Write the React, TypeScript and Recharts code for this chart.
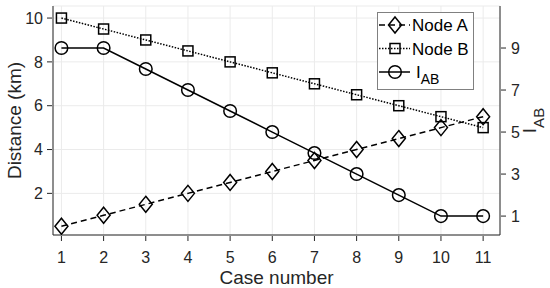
import { ComposedChart, Line, XAxis, YAxis, CartesianGrid, Legend, Label } from 'recharts';

const cases = [1, 2, 3, 4, 5, 6, 7, 8, 9, 10, 11];
const nodeA = [0.5, 1, 1.5, 2, 2.5, 3, 3.5, 4, 4.5, 5, 5.5];
const nodeB = [10, 9.5, 9, 8.5, 8, 7.5, 7, 6.5, 6, 5.5, 5];
const iab = [9, 9, 8, 7, 6, 5, 4, 3, 2, 1, 1];

const caseTicks = [1, 2, 3, 4, 5, 6, 7, 8, 9, 10, 11];
const distanceTicks = [2, 4, 6, 8, 10];
const iabTicks = [1, 3, 5, 7, 9];
const legendOrder = ['a', 'b', 'iab'];

const data = cases.map((c, i) => ({ c, a: nodeA[i], b: nodeB[i], iab: iab[i] }));

const FONT = '"Liberation Sans", Arial, sans-serif';
const INK = '#000000';
const AXIS = '#262626';

// open markers, like matlab's 'd', 's', 'o'
const diamond = (cx: number, cy: number, key?: any) => (
  <path key={key} d={`M${cx},${cy - 8}L${cx + 6.5},${cy}L${cx},${cy + 8}L${cx - 6.5},${cy}Z`} fill="none" stroke={INK} strokeWidth={1.5} />
);
const square = (cx: number, cy: number, key?: any) => (
  <rect key={key} x={cx - 5} y={cy - 5} width={10} height={10} fill="none" stroke={INK} strokeWidth={1.5} />
);
const circle = (cx: number, cy: number, key?: any) => (
  <circle key={key} cx={cx} cy={cy} r={6.3} fill="none" stroke={INK} strokeWidth={1.5} />
);

const seriesStyle: Record<string, { dash?: string; marker: typeof diamond }> = {
  a: { dash: '6 4', marker: diamond },
  b: { dash: '1.5 1.5', marker: square },
  iab: { marker: circle },
};

const BottomTick = ({ x, y, payload }: any) => (
  <g>
    <line x1={x} x2={x} y1={y - 11} y2={y - 16} stroke={AXIS} />
    <text x={x} y={y} dy="0.71em" textAnchor="middle" fill={AXIS} fontSize={16} fontFamily={FONT}>
      {payload.value}
    </text>
  </g>
);

const TopTick = ({ x, y }: any) => <line x1={x} x2={x} y1={y} y2={y + 5} stroke={AXIS} />;

const LeftTick = ({ x, y, payload }: any) => (
  <g>
    <line x1={x + 4} x2={x + 9} y1={y} y2={y} stroke={AXIS} />
    <text x={x} y={y} dy="0.355em" textAnchor="end" fill={AXIS} fontSize={16} fontFamily={FONT}>
      {payload.value}
    </text>
  </g>
);

const RightTick = ({ x, y, payload }: any) => (
  <g>
    <line x1={x - 5} x2={x - 10} y1={y} y2={y} stroke={AXIS} />
    <text x={x} y={y} dy="0.355em" textAnchor="start" fill={AXIS} fontSize={16} fontFamily={FONT}>
      {payload.value}
    </text>
  </g>
);

const LeftLabel = ({ viewBox }: any) => {
  const cx = viewBox.x + 21;
  const cy = viewBox.y + viewBox.height / 2;
  return (
    <text x={cx} y={cy} transform={`rotate(-90, ${cx}, ${cy})`} textAnchor="middle" fill={AXIS} fontSize={19} fontFamily={FONT}>
      Distance (km)
    </text>
  );
};

const RightLabel = ({ viewBox }: any) => {
  const cx = viewBox.x + 36;
  const cy = viewBox.y + viewBox.height / 2;
  return (
    <text x={cx} y={cy} transform={`rotate(-90, ${cx}, ${cy})`} textAnchor="middle" fill={AXIS} fontSize={19} fontFamily={FONT}>
      I<tspan fontSize={15} dy={8}>AB</tspan>
    </text>
  );
};

const BottomLabel = ({ viewBox }: any) => (
  <text x={viewBox.x + viewBox.width / 2} y={viewBox.y + 49} textAnchor="middle" fill={AXIS} fontSize={19} fontFamily={FONT}>
    Case number
  </text>
);

const LegendBox = ({ payload }: any) => {
  const entries = [...(payload || [])].sort(
    (p: any, q: any) => legendOrder.indexOf(p.dataKey) - legendOrder.indexOf(q.dataKey)
  );
  return (
    <svg width={97} height={78} style={{ display: 'block' }}>
      <rect x={0.5} y={0.5} width={96} height={77} fill="#ffffff" stroke="#808080" strokeWidth={1} />
      {entries.map((entry: any, i: number) => {
        const st = seriesStyle[entry.dataKey];
        const cy = 13 + i * 23.5;
        return (
          <g key={entry.dataKey}>
            <line x1={2} x2={33} y1={cy} y2={cy} stroke={INK} strokeWidth={1.5} strokeDasharray={st.dash} />
            {st.marker(18, cy)}
            {entry.dataKey === 'iab' ? (
              <text x={39} y={cy} dy="0.355em" fill={INK} fontSize={17} fontFamily={FONT}>
                I<tspan fontSize={14} dy={6}>AB</tspan>
              </text>
            ) : (
              <text x={35} y={cy} dy="0.355em" fill={INK} fontSize={17} fontFamily={FONT}>
                {entry.value}
              </text>
            )}
          </g>
        );
      })}
    </svg>
  );
};

export default function App() {
  return (
    <div style={{ position: 'absolute', left: 0, top: 0, width: 550, height: 288, background: '#ffffff' }}>
      <ComposedChart width={550} height={288} data={data} margin={{ top: 6, right: 0, bottom: 0, left: 0 }}>
        <CartesianGrid xAxisId="bottom" yAxisId="left" stroke="#ebebeb" strokeWidth={1} />
        <XAxis
          xAxisId="bottom"
          type="number"
          dataKey="c"
          domain={[0.8, 11.4]}
          ticks={caseTicks}
          interval={0}
          allowDataOverflow
          height={53}
          tickLine={false}
          tickMargin={11}
          tick={<BottomTick />}
          axisLine={{ stroke: AXIS }}
        >
          <Label content={<BottomLabel />} />
        </XAxis>
        <XAxis
          xAxisId="top"
          orientation="top"
          type="number"
          dataKey="c"
          domain={[0.8, 11.4]}
          ticks={caseTicks}
          interval={0}
          allowDataOverflow
          height={0}
          tickLine={false}
          tickMargin={0}
          tick={<TopTick />}
          axisLine={{ stroke: AXIS }}
        />
        <YAxis
          yAxisId="left"
          type="number"
          domain={[0.1, 10.55]}
          ticks={distanceTicks}
          interval={0}
          allowDataOverflow
          width={53}
          tickLine={false}
          tickMargin={4}
          tick={<LeftTick />}
          axisLine={{ stroke: AXIS }}
        >
          <Label content={<LeftLabel />} />
        </YAxis>
        <YAxis
          yAxisId="right"
          orientation="right"
          type="number"
          domain={[0.1, 11]}
          ticks={iabTicks}
          interval={0}
          allowDataOverflow
          width={50}
          tickLine={false}
          tickMargin={5}
          tick={<RightTick />}
          axisLine={{ stroke: AXIS }}
        >
          <Label content={<RightLabel />} />
        </YAxis>
        <Legend
          layout="vertical"
          align="center"
          verticalAlign="middle"
          wrapperStyle={{ left: 377, top: 12, width: 97, height: 78 }}
          content={<LegendBox />}
        />
        <Line
          xAxisId="bottom"
          yAxisId="left"
          dataKey="a"
          name="Node A"
          stroke={INK}
          strokeWidth={1.5}
          strokeDasharray="6 4"
          dot={(p: any) => diamond(p.cx, p.cy, p.index)}
          activeDot={false}
          isAnimationActive={false}
        />
        <Line
          xAxisId="bottom"
          yAxisId="left"
          dataKey="b"
          name="Node B"
          stroke={INK}
          strokeWidth={1.5}
          strokeDasharray="1.5 1.5"
          dot={(p: any) => square(p.cx, p.cy, p.index)}
          activeDot={false}
          isAnimationActive={false}
        />
        <Line
          xAxisId="bottom"
          yAxisId="right"
          dataKey="iab"
          name="I_AB"
          stroke={INK}
          strokeWidth={1.5}
          dot={(p: any) => circle(p.cx, p.cy, p.index)}
          activeDot={false}
          isAnimationActive={false}
        />
      </ComposedChart>
    </div>
  );
}
